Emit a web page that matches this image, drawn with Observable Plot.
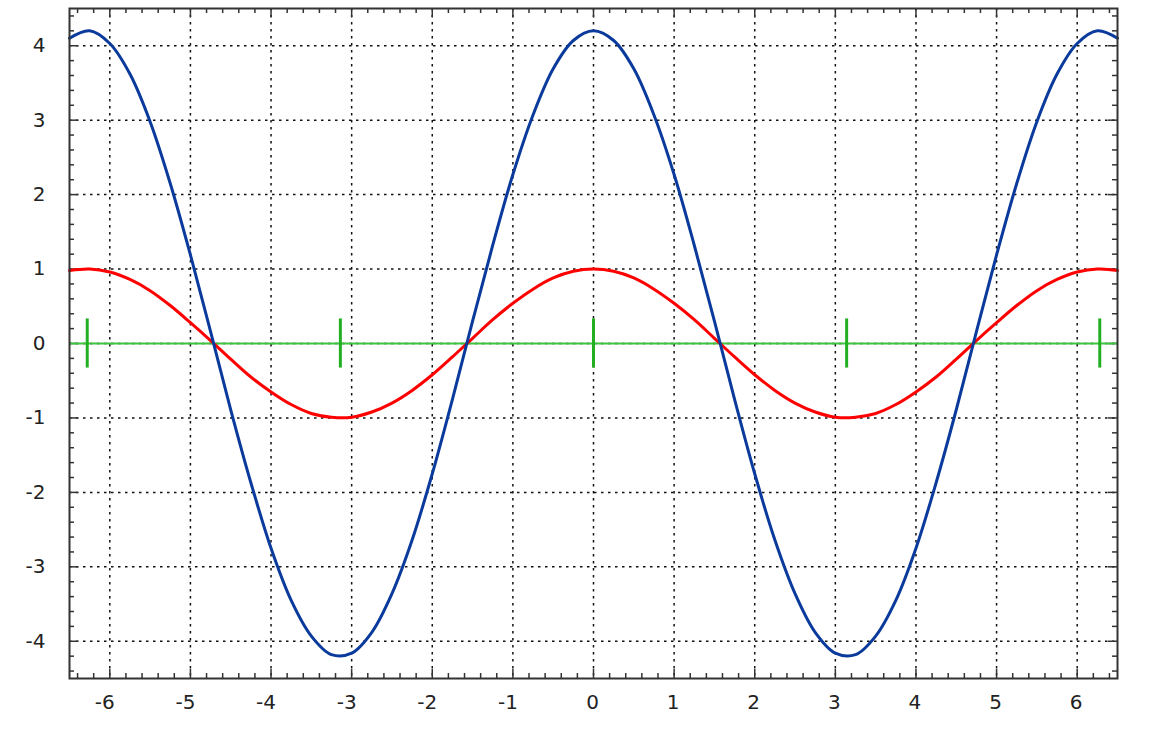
<!DOCTYPE html>
<html>
<head>
<meta charset="utf-8">
<script src="https://cdn.jsdelivr.net/npm/d3@7"></script>
<script src="https://cdn.jsdelivr.net/npm/@observablehq/plot@0.6"></script>
<style>
  html, body { margin: 0; padding: 0; background: #fff; overflow: hidden; }
</style>
</head>
<body>
<div id="chart"></div>
<script>
// ---- Data ----
const xValues = [
  -6.5, -6.25, -6, -5.75, -5.5, -5.25, -5, -4.75, -4.5, -4.25, -4, -3.75, -3.5, -3.25,
  -3, -2.75, -2.5, -2.25, -2, -1.75, -1.5, -1.25, -1, -0.75, -0.5, -0.25,
  0,
  0.25, 0.5, 0.75, 1, 1.25, 1.5, 1.75, 2, 2.25, 2.5, 2.75, 3,
  3.25, 3.5, 3.75, 4, 4.25, 4.5, 4.75, 5, 5.25, 5.5, 5.75, 6, 6.25, 6.5
];
const redValues = [
  0.98, 1.00, 0.96, 0.86, 0.71, 0.51, 0.28, 0.04, -0.21, -0.45, -0.65, -0.82, -0.94, -0.99,
  -0.99, -0.92, -0.80, -0.63, -0.42, -0.18, 0.07, 0.32, 0.54, 0.73, 0.88, 0.97,
  1.00,
  0.97, 0.88, 0.73, 0.54, 0.32, 0.07, -0.18, -0.42, -0.63, -0.80, -0.92, -0.99,
  -0.99, -0.94, -0.82, -0.65, -0.45, -0.21, 0.04, 0.28, 0.51, 0.71, 0.86, 0.96, 1.00, 0.98
];
const blueValues = [
  4.10, 4.20, 4.03, 3.62, 2.98, 2.15, 1.19, 0.16, -0.89, -1.87, -2.75, -3.45, -3.93, -4.18,
  -4.16, -3.88, -3.36, -2.64, -1.75, -0.75, 0.30, 1.32, 2.27, 3.07, 3.69, 4.07,
  4.20,
  4.07, 3.69, 3.07, 2.27, 1.32, 0.30, -0.75, -1.75, -2.64, -3.36, -3.88, -4.16,
  -4.18, -3.93, -3.45, -2.75, -1.87, -0.89, 0.16, 1.19, 2.15, 2.98, 3.62, 4.03, 4.20, 4.10
];
// green impulse marks on the zero line
const markX = [-6.28, -3.14, 0, 3.14, 6.28];
const markLow = [-0.33, -0.33, -0.33, -0.33, -0.33];
const markHigh = [0.33, 0.33, 0.33, 0.33, 0.33];
const zeroLine = [0];

// tick labels
const xTicks = [-6, -5, -4, -3, -2, -1, 0, 1, 2, 3, 4, 5, 6];
const yTicks = [-4, -3, -2, -1, 0, 1, 2, 3, 4];
const xMinor = d3.range(-32, 33).map(i => i / 5).filter(v => !Number.isInteger(v));
const yMinor = d3.range(-22, 23).map(i => i / 5).filter(v => !Number.isInteger(v));

// ---- Build tables ----
const redData = xValues.map((x, i) => ({x, y: redValues[i]}));
const blueData = xValues.map((x, i) => ({x, y: blueValues[i]}));
const marks = markX.map((x, i) => ({x, lo: markLow[i], hi: markHigh[i]}));

const W = 1174, H = 742;
const mL = 69, mR = 57, mT = 8, mB = 64;
const innerW = W - mL - mR, innerH = H - mT - mB;
const majorLen = 9, minorLen = 5;
const tickColor = "#333";
const font = "DejaVu Sans, sans-serif";

const chart = Plot.plot({
  width: W,
  height: H,
  marginLeft: mL,
  marginRight: mR,
  marginTop: mT,
  marginBottom: mB,
  style: {background: "#fff", fontFamily: font},
  x: {domain: [-6.5, 6.5], axis: null},
  y: {domain: [-4.5, 4.5], axis: null},
  marks: [
    // dotted grid
    Plot.ruleX(xTicks, {x: d => d, stroke: "#111", strokeWidth: 1.5, strokeDasharray: "2.5,4.5"}),
    Plot.ruleY(yTicks, {y: d => d, stroke: "#111", strokeWidth: 1.5, strokeDasharray: "2.5,4.5"}),
    // inward ticks, bottom/top
    Plot.tickX(xTicks, {x: d => d, stroke: tickColor, strokeWidth: 1.5, insetTop: innerH - majorLen}),
    Plot.tickX(xTicks, {x: d => d, stroke: tickColor, strokeWidth: 1.5, insetBottom: innerH - majorLen}),
    Plot.tickX(xMinor, {x: d => d, stroke: tickColor, strokeWidth: 1.5, insetTop: innerH - minorLen}),
    Plot.tickX(xMinor, {x: d => d, stroke: tickColor, strokeWidth: 1.5, insetBottom: innerH - minorLen}),
    // inward ticks, left/right
    Plot.tickY(yTicks, {y: d => d, stroke: tickColor, strokeWidth: 1.5, insetRight: innerW - majorLen}),
    Plot.tickY(yTicks, {y: d => d, stroke: tickColor, strokeWidth: 1.5, insetLeft: innerW - majorLen}),
    Plot.tickY(yMinor, {y: d => d, stroke: tickColor, strokeWidth: 1.5, insetRight: innerW - minorLen}),
    Plot.tickY(yMinor, {y: d => d, stroke: tickColor, strokeWidth: 1.5, insetLeft: innerW - minorLen}),
    // tick labels
    Plot.text(xTicks.filter(d => d < 0), {x: d => d, frameAnchor: "bottom", dy: 30, dx: -5, text: d => String(d),
      fontSize: 20, fill: "#222", fontFamily: font}),
    Plot.text(xTicks.filter(d => d >= 0), {x: d => d, frameAnchor: "bottom", dy: 30, dx: -1, text: d => String(d),
      fontSize: 20, fill: "#222", fontFamily: font}),
    Plot.text(yTicks, {y: d => d, frameAnchor: "left", dx: -24, textAnchor: "end", text: d => String(d),
      fontSize: 20, fill: "#222", fontFamily: font}),
    // green zero line and impulse marks
    Plot.ruleY(zeroLine, {y: d => d, stroke: "#3ec43e", strokeWidth: 2}),
    Plot.ruleX(marks, {x: "x", y1: "lo", y2: "hi", stroke: "#22b022", strokeWidth: 3}),
    // curves
    Plot.line(redData, {x: "x", y: "y", stroke: "#ff0000", strokeWidth: 3, curve: "catmull-rom"}),
    Plot.line(blueData, {x: "x", y: "y", stroke: "#0a3a9c", strokeWidth: 3, curve: "catmull-rom"}),
    // frame
    Plot.frame({stroke: "#333", strokeWidth: 2})
  ]
});
document.getElementById("chart").appendChild(chart);
</script>
</body>
</html>
